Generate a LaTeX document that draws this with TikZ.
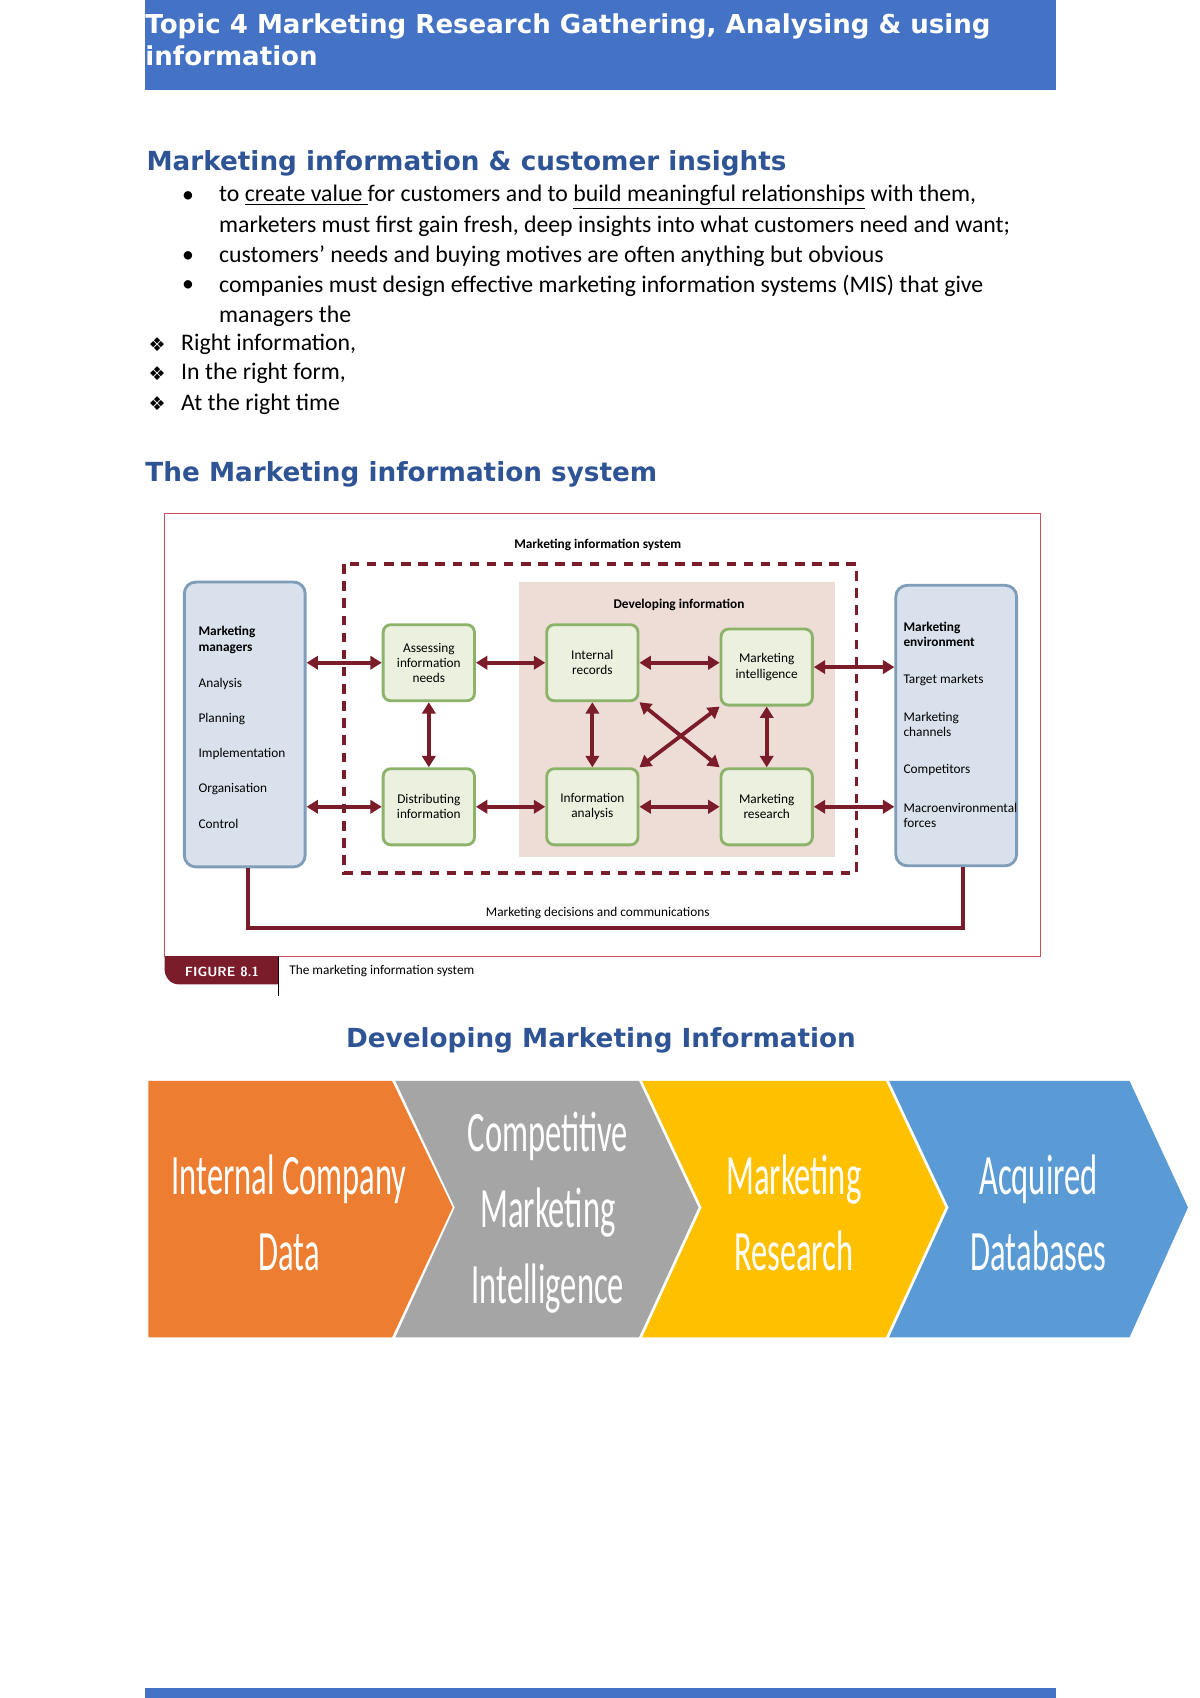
\documentclass[tikz,border=0pt]{standalone}
\usepackage{fontspec}
\setmainfont{Carlito}
\newfontfamily\hd{DejaVu Sans}
\usetikzlibrary{arrows.meta}
\definecolor{hblue}{HTML}{4472C4}
\definecolor{tblue}{HTML}{2F5496}
\definecolor{mar}{HTML}{7B1C2A}
\definecolor{gbox}{HTML}{EBF1DE}
\definecolor{gbord}{HTML}{8DB36B}
\definecolor{bbox}{HTML}{D9E2EC}
\definecolor{bbord}{HTML}{7F9DB9}
\definecolor{pink}{HTML}{EEDDD6}
\definecolor{corg}{HTML}{ED7D31}
\definecolor{cgry}{HTML}{A5A5A5}
\definecolor{cyel}{HTML}{FFC000}
\definecolor{cblu}{HTML}{5B9BD5}
\tikzset{
 gnode/.style={draw=gbord,fill=gbox,line width=1.5pt,rounded corners=4pt,minimum width=48pt,font=\fontsize{7}{8}\selectfont,align=center,text width=42pt,inner sep=2pt,minimum height=40pt},
 dbl/.style={{Triangle[length=6pt,width=7pt]}-{Triangle[length=6pt,width=7pt]},mar,line width=2pt},
 bul/.style={anchor=west,font=\fontsize{12.5}{14}\selectfont},
 sm/.style={anchor=west,font=\fontsize{7}{8}\selectfont,align=left,inner sep=0},
 hh/.style={text=tblue,font=\hd\bfseries\fontsize{13.8}{16}\selectfont,inner sep=0},
 ctext/.style={text=white,align=center,font=\fontsize{30}{40}\selectfont}
}
\begin{document}
\begin{tikzpicture}[x=0.02cm,y=-0.02cm]
\useasboundingbox (0,0) rectangle (1108,1568);
\fill[white] (0,0) rectangle (1108,1568);
\fill[hblue] (134,0) rectangle (975,83);
\node[anchor=north west,text=white,font=\hd\bfseries\fontsize{13.7}{17}\selectfont,align=left,inner sep=0] (t) at (134,12) {Topic 4 Marketing Research Gathering, Analysing \& using\\information};
\fill[hblue] (134,1559) rectangle (975,1568);
\node[hh,anchor=west] (h1) at (135,151) {Marketing information \& customer insights};
\foreach \y/\t in {182/{to \underline{create value }for customers and to \underline{build meaningful relationships} with them,},237/{customers’ needs and buying motives are often anything but obvious},264/{companies must design effective marketing information systems (MIS) that give}}{\node[bul] at (162,\y) {\textbullet}; \node[bul,inner sep=0] at (202,\y) {\t};}
\node[bul,inner sep=0] (l2) at (202,209) {marketers must first gain fresh, deep insights into what customers need and want;};
\node[bul,inner sep=0] (l5) at (202,292) {managers the};
\foreach \y/\t in {318/{Right information,},345/{In the right form,},373/{At the right time}}{\node[bul,inner sep=0,font=\fontsize{10}{12}\selectfont] at (137,\y) {\hd ❖}; \node[bul,inner sep=0] at (167,\y) {\t};}
\node[hh,anchor=west] (h2) at (134,438) {The Marketing information system};
% figure
\draw[draw={rgb,255:red,200;green,80;blue,90}] (152,474) rectangle (961,883);
\node[font=\bfseries\fontsize{7}{8}\selectfont] (mis) at (552,503) {Marketing information system};
\fill[pink] (479,537) rectangle (771,791);
\node[font=\bfseries\fontsize{7}{8}\selectfont] (di) at (627,559) {Developing information};
\draw[mar,line width=2pt,dash pattern=on 5pt off 4pt] (318,521) rectangle (791,806);
\node[draw=bbord,fill=bbox,line width=1.5pt,rounded corners=6pt,minimum width=112*0.567pt,minimum height=264*0.567pt] (mm) at (226,669) {};
\node[sm,font=\bfseries\fontsize{7}{8}\selectfont] at (183,591) {Marketing\\managers};
\foreach \y/\t in {632/Analysis,664/Planning,696/Implementation,729/Organisation,761/Control}{\node[sm] at (183,\y) {\t};}
\node[draw=bbord,fill=bbox,line width=1.5pt,rounded corners=6pt,minimum width=112*0.567pt,minimum height=260*0.567pt] (me) at (883,670) {};
\node[sm,font=\bfseries\fontsize{7}{8}\selectfont] at (834,586) {Marketing\\environment};
\node[sm] at (834,628) {Target markets};
\node[sm] at (834,669) {Marketing\\channels};
\node[sm] at (834,711) {Competitors};
\node[sm] at (834,753) {Macroenvironmental\\forces};
\node[gnode] (ain) at (396,612) {Assessing information needs};
\node[gnode] (dis) at (396,745) {Distributing information};
\node[gnode] (ir) at (547,612) {Internal records};
\node[gnode] (ia) at (547,745) {Information analysis};
\node[gnode] (mi) at (708,616) {Marketing intelligence};
\node[gnode] (mr) at (708,745) {Marketing research};
\draw[dbl] (mm.east|-ain) -- (ain);
\draw[dbl] (mm.east|-dis) -- (dis);
\draw[dbl] (ain) -- (dis);
\draw[dbl] (ain) -- (ir);
\draw[dbl] (dis) -- (ia);
\draw[dbl] (ir) -- (mi.west|-ir);
\draw[dbl] (ia) -- (mr);
\draw[dbl] (ir) -- (ia);
\draw[dbl] (mi) -- (mr);
\draw[dbl] (ir.south east) -- (mr.north west);
\draw[dbl] (ia.north east) -- (mi.south west);
\draw[dbl] (mi.east) -- (me.west|-mi);
\draw[dbl] (mr) -- (me.west|-mr);
\draw[mar,line width=2pt] (mm.south-|229,0) -- (229,857) -- (889,857) -- (me.south-|889,0);
\node[fill=white,font=\fontsize{7}{8}\selectfont,inner sep=1pt] (md) at (552,843) {Marketing decisions and communications};
\fill[mar] (152,883) -- (257,883) -- (257,909) -- (165,909) to[out=180,in=270] (152,895) -- cycle;
\draw (257,883) -- (257,920);
\node[text=white,font=\sffamily\bfseries\fontsize{7}{8}\selectfont] (fig) at (205,897) {FIGURE 8.1};
\node[anchor=west,font=\fontsize{7}{8}\selectfont] (cap) at (261,897) {The marketing information system};
\node[hh] (h3) at (555,961) {Developing Marketing Information};
% chevrons
\fill[corg] (137,998) -- (362,998) -- (418,1115) -- (362,1235) -- (137,1235) -- cycle;
\fill[cgry] (365,998) -- (590,998) -- (645,1115) -- (590,1235) -- (365,1235) -- (420,1115) -- cycle;
\fill[cyel] (593,998) -- (818,998) -- (873,1115) -- (818,1235) -- (593,1235) -- (648,1115) -- cycle;
\fill[cblu] (821,998) -- (1043,998) -- (1097,1115) -- (1043,1235) -- (821,1235) -- (876,1115) -- cycle;
\node[ctext] (c1) at (267,1120) {\scalebox{0.57}[1]{Internal Company}\\\scalebox{0.57}[1]{Data}};
\node[ctext] (c2) at (506,1120) {\scalebox{0.57}[1]{Competitive}\\\scalebox{0.57}[1]{Marketing}\\\scalebox{0.57}[1]{Intelligence}};
\node[ctext] (c3) at (733,1120) {\scalebox{0.57}[1]{Marketing}\\\scalebox{0.57}[1]{Research}};
\node[ctext] (c4) at (959,1120) {\scalebox{0.57}[1]{Acquired}\\\scalebox{0.57}[1]{Databases}};
\end{tikzpicture}
\end{document}
